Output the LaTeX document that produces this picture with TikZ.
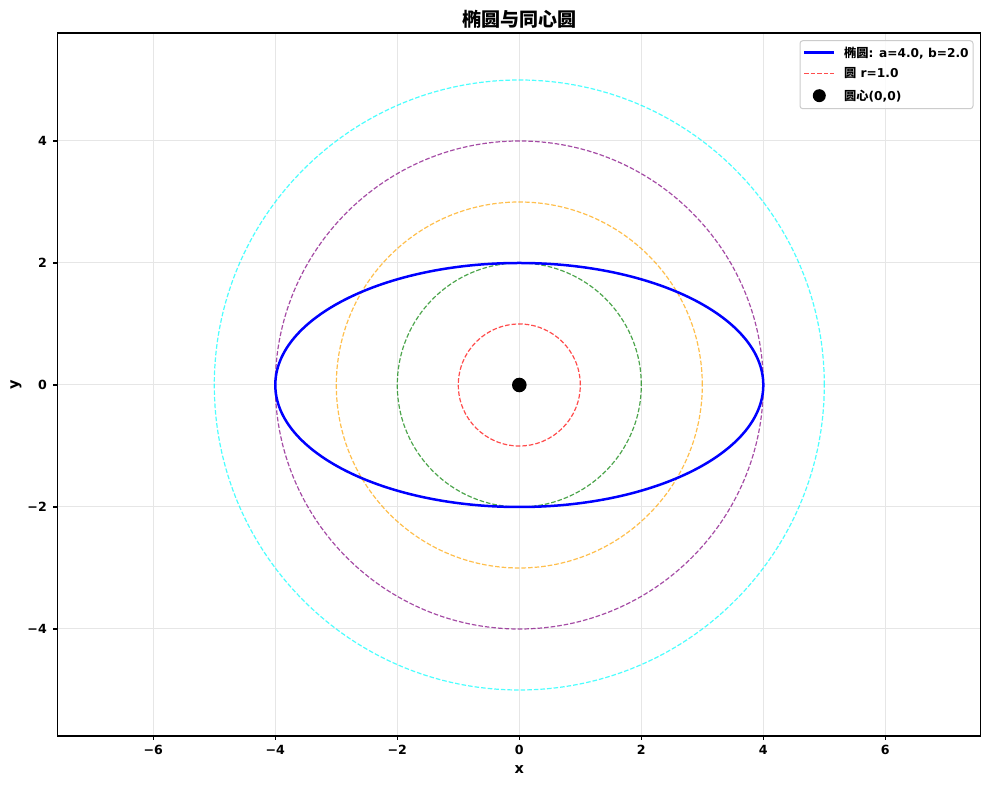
\documentclass[tikz,border=0pt]{standalone}
\usepackage{fontspec}
\setmainfont{DejaVu Sans}
\newfontfamily\cjk{Noto Sans CJK SC}
\definecolor{mplred}{HTML}{FF0000}
\definecolor{mplblue}{HTML}{0000FF}
\definecolor{mplgreen}{HTML}{008000}
\definecolor{mplorange}{HTML}{FFA500}
\definecolor{mplpurple}{HTML}{800080}
\definecolor{mplcyan}{HTML}{00FFFF}
\definecolor{gridc}{HTML}{E6E6E6}
\definecolor{legc}{HTML}{CCCCCC}
\definecolor{legred}{HTML}{FF4D4D}
\tikzset{
  circ/.style={line width=1.2pt, dash pattern=on 4.6pt off 2pt, draw opacity=0.7},
  ell/.style={line width=2.5pt, draw=mplblue},
  gridl/.style={draw=gridc, line width=1pt},
  tick/.style={line width=1.05pt},
  ticklab/.style={font=\fontsize{12.6}{14}\selectfont\bfseries, inner sep=0pt},
  leglab/.style={font=\fontsize{12.2}{14}\selectfont\bfseries, inner sep=0pt, anchor=west},
}
\begin{document}
\begin{tikzpicture}[x=1pt,y=1pt]
\useasboundingbox (0,0) rectangle (989,790);
\fill[white] (0,0) rectangle (989,790);
\begin{scope}[shift={(519.3,405)}, x=61pt, y=61pt]
  % grid
  \foreach \g in {-6,-4,...,6} \draw[gridl] (\g,-5.754) -- (\g,5.770);
  \foreach \g in {-4,-2,...,4} \draw[gridl] (-7.574,\g) -- (7.564,\g);
  % circles
  \draw[circ, draw=mplred] (0,0) circle[radius=1];
  \draw[circ, draw=mplgreen] (0,0) circle[radius=2];
  \draw[circ, draw=mplorange] (0,0) circle[radius=3];
  \draw[circ, draw=mplpurple] (0,0) circle[radius=4];
  \draw[circ, draw=mplcyan] (0,0) circle[radius=5];
  % ellipse
  \draw[ell] (0,0) ellipse[x radius=4, y radius=2];
  % centre
  \fill[black] (0,0) circle[radius=7.3pt];
  \coordinate (O) at (0,0);
  % axes frame
  \draw[tick] (-7.574,-5.754) rectangle (7.564,5.770);
  % x ticks
  \foreach \g/\t in {-6/{−6},-4/{−4},-2/{−2},0/0,2/2,4/4,6/6} {
    \draw[tick] (\g,-5.754) -- ++(0,-4.3pt);
    \node[ticklab] (xt\g) at ([yshift=-13.6pt]\g,-5.754) {\t};
  }
  \foreach \g/\t in {-4/{−4},-2/{−2},0/0,2/2,4/4} {
    \draw[tick] (-7.574,\g) -- ++(-4.3pt,0);
    \node[ticklab, anchor=east] (yt\g) at ([xshift=-10.3pt]-7.574,\g) {\t};
  }
\end{scope}
% labels
\node[font=\fontsize{14.5}{17}\selectfont\bfseries, inner sep=0pt] (xl) at (519.3,20) {x};
\node[font=\fontsize{14.5}{17}\selectfont\bfseries, inner sep=0pt, rotate=90] (yl) at (16,405) {y};
\node[font=\fontsize{19}{22}\selectfont\cjk\bfseries, inner sep=0pt] (title) at (519.3,771) {椭圆与同心圆};
% legend
\draw[draw=legc, fill=white, fill opacity=0.8, rounded corners=2.8pt, line width=1pt] (800,749.3) rectangle (973,681.3);
\coordinate (l1a) at (804,737.3); \coordinate (l1b) at (834,737.3);
\draw[ell] (l1a) -- (l1b);
\node[leglab] (lt1) at (844,737.3) {{\cjk 椭圆}: a=4.0, b=2.0};
\coordinate (l2a) at (804,716.5); \coordinate (l2b) at (834,716.5);
\draw[line width=1.3pt, dash pattern=on 4.6pt off 2pt, draw=legred] (l2a) -- (l2b);
\node[leglab] (lt2) at (844,716.7) {{\cjk 圆} r=1.0};
\fill[black] (819.3,694.3) circle[radius=6.5pt];
\node[leglab] (lt3) at (844,694.3) {{\cjk 圆心}(0,0)};
\end{tikzpicture}
\end{document}
